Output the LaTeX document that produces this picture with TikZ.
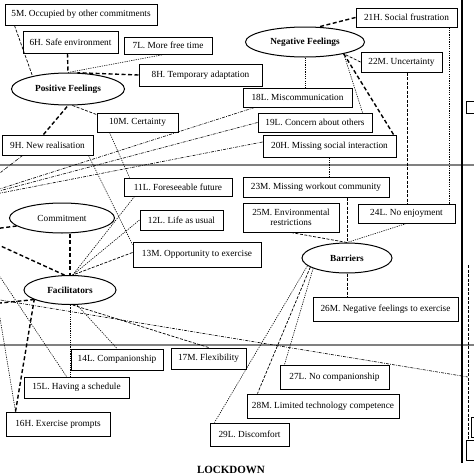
\documentclass[tikz,border=0pt]{standalone}
\usepackage{fontspec}
\setmainfont{Liberation Serif}
\usetikzlibrary{shapes.geometric}
\begin{document}
\begin{tikzpicture}[x=1pt,y=-1pt,
  box/.style={draw,line width=1pt,inner sep=1pt,font=\fontsize{9.3}{10.3}\selectfont,align=center},
  bx/.style 2 args={box,minimum width=#1pt,minimum height=#2pt},
  theme/.style 2 args={draw,ellipse,line width=1pt,inner sep=0pt,minimum width=#1pt,minimum height=#2pt,font=\fontsize{9.3}{10.3}\selectfont\bfseries},
  hlink/.style={line width=1.4pt,dash pattern=on 4pt off 2.5pt},
  mlink/.style={line width=0.7pt,dash pattern=on 3pt off 1.5pt},
  llink/.style={line width=0.6pt,dash pattern=on 1.2pt off 1.1pt},
  xlink/.style={line width=0.6pt,dash pattern=on 3pt off 1.2pt on 0.8pt off 1.2pt},
  sep/.style={draw=gray,line width=1.1pt}]
\useasboundingbox (0,0) rectangle (474,474);
\clip (0,0) rectangle (474,474);

% separators
\coordinate (s1l) at (0,165); \coordinate (s1r) at (474,165);
\coordinate (s2l) at (0,345); \coordinate (s2r) at (474,345);
\draw[sep] (s1l) -- (s1r);
\draw[sep] (s2l) -- (s2r);
\coordinate (vt) at (462,0); \coordinate (vb) at (462,463);
\draw[line width=1.4pt] (vt) -- (vb);

% boxes
\node[bx={152}{21}] (b5) at (81,14.5) {5M. Occupied by other commitments};
\node[bx={95}{22}] (b6) at (70.5,42) {6H. Safe environment};
\node[bx={88}{17}] (b7) at (168,45.5) {7L. More free time};
\node[bx={123}{22}] (b8) at (200.5,75) {8H. Temporary adaptation};
\node[bx={81}{19}] (b10) at (137.5,122.5) {10M. Certainty};
\node[bx={91}{20}] (b9) at (47.5,145) {9H. New realisation};
\node[bx={101}{19}] (b21) at (406.5,17.5) {21H. Social frustration};
\node[bx={81}{20}] (b22) at (401.5,62) {22M. Uncertainty};
\node[bx={109}{19}] (b18) at (297.5,97.5) {18L. Miscommunication};
\node[bx={114}{19}] (b19) at (315,122.5) {19L. Concern about others};
\node[bx={133}{22}] (b20) at (329.5,146) {20H. Missing social interaction};
\node[bx={108}{18}] (b11) at (178,187) {11L. Foreseeable future};
\node[bx={83}{20}] (b12) at (181.5,220) {12L. Life as usual};
\node[bx={128}{25}] (b13) at (197,254.5) {13M. Opportunity to exercise};
\node[bx={146}{20}] (b23) at (316,187) {23M. Missing workout community};
\node[bx={96}{29}] (b25) at (291,217.5) {25M. Environmental\\restrictions};
\node[bx={97}{19}] (b24) at (406.5,213.5) {24L. No enjoyment};
\node[bx={145}{24}] (b26) at (385.5,309) {26M. Negative feelings to exercise};
\node[bx={92}{21}] (b14) at (117,359.5) {14L. Companionship};
\node[bx={75}{21}] (b17) at (208.5,358.5) {17M. Flexibility};
\node[bx={105}{21}] (b15) at (76.5,387.5) {15L. Having a schedule};
\node[bx={104}{24}] (b16) at (58,424) {16H. Exercise prompts};
\node[bx={79}{23}] (b29) at (249.5,434.5) {29L. Discomfort};
\node[bx={109}{24}] (b27) at (334.5,377) {27L. No companionship};
\node[bx={152}{24}] (b28) at (323,406) {28M. Limited technology competence};

% right-hand fragments
\node[bx={24}{12}] (rf1) at (478,107.5) {};
\node[bx={21}{20}] (rf2) at (481.5,427) {};
\node[bx={24}{20}] (rf3) at (478,450) {};

% themes
\node[theme={113}{32}] (pf) at (68,89) {Positive Feelings};
\node[theme={119}{30}] (nf) at (305,42) {Negative Feelings};
\node[theme={105}{30},font=\fontsize{9.3}{10.3}\selectfont] (com) at (62,218) {Commitment};
\node[theme={92}{29}] (fac) at (70,290) {Facilitators};
\node[theme={90}{30}] (bar) at (347,258) {Barriers};

\node[font=\fontsize{11}{12}\selectfont\bfseries,anchor=base,inner sep=0pt] (lock) at (231,473) {LOCKDOWN};

% off-frame ends
\coordinate (offA) at (-35,200);
\coordinate (offB) at (-30,232);
\coordinate (offC) at (-30,306);
\coordinate (offD) at (-30,295);
\coordinate (offE) at (0,318);
\coordinate (offR) at (468,377);
\coordinate (rv1) at (468,265);
\coordinate (rv2) at (468,440);
\coordinate (c21) at ([xshift=-8pt]b21.south east);
\coordinate (c22) at ([xshift=6pt]b22.south);

% Positive Feelings
\draw[mlink] ([xshift=10pt]b5.south west) -- (pf.160);
\draw[hlink] ([xshift=-3pt]b6.south) -- (pf.north);
\draw[llink] ([xshift=-4pt]b7.south) -- (pf.north);
\draw[hlink] (b8.west) -- (pf.60);
\draw[hlink] ([xshift=-4pt]b9.north) -- (pf.south);
\draw[mlink] (pf.-75) -- ([yshift=-2pt]b10.north west);

% Negative Feelings
\draw[hlink] (b21.west) -- (nf.48);
\draw[mlink] (b22.west) -- (nf.-17);
\draw[hlink] ([xshift=-3pt]b20.north east) -- (nf.-17);
\draw[llink] ([xshift=-10pt]b19.north east) -- (nf.-17);
\draw[llink] (nf.south) -- (nf.south |- b18.north);

% cross links to the left
\draw[xlink] ([xshift=12pt]b18.south west) -- (offA);
\draw[xlink] (b19.west) -- (offA);
\draw[xlink] ([yshift=4pt]b20.west) -- (offA);
\draw[xlink] ([xshift=21pt]b9.south west) -- (offA);
\draw[llink] ([xshift=13pt]b10.south west) -- ([xshift=6pt]b11.north west);
\draw[llink] ([xshift=-5pt]b9.south east) -- ([yshift=-3pt]b13.north west);

% Commitment / Facilitators
\draw[hlink] (fac.north |- com.south) -- (fac.north);
\draw[hlink] (com.190) -- (offB);
\draw[hlink] (fac.110) -- (offB);
\draw[llink] ([xshift=11pt]b11.south west) -- (fac.80);
\draw[llink] (b12.west) -- (fac.80);
\draw[mlink] ([yshift=2pt]b13.west) -- (fac.80);
\draw[hlink] (fac.195) -- (offC);
\draw[xlink] (offD) -- (offR);
\draw[llink] (fac.-65) -- (b14.north);
\draw[llink] (fac.south) -- (fac.south |- b15.north);
\draw[llink] (offB) -- ([xshift=-10pt]b15.north);
\draw[llink] (offE) -- ([xshift=10pt]b16.north west);
\draw[hlink] ([xshift=10pt]b16.north west) -- (fac.-165);
\draw[mlink] (fac.-80) -- (b17.north);

% Barriers
\draw[mlink] (bar.north |- b23.south) -- (bar.north);
\draw[mlink] (b25.south) -- (bar.north);
\draw[llink] (b24.south) -- (bar.north);
\draw[mlink] (bar.south) -- (bar.south |- b26.north);
\draw[llink] (b20.south) -- (b20.south |- b23.north);
\draw[mlink] (c22) -- (c22 |- b24.north);
\draw[llink] (c21) -- (c21 |- b24.north);
\draw[llink] (bar.-169) -- ([xshift=5pt]b29.north west);
\draw[mlink] (bar.-166) -- ([xshift=11pt]b28.north west);
\draw[llink] (bar.-163) -- ([xshift=5pt]b27.north west);
\draw[mlink,line width=0.9pt] (rv1) -- (rv2);
\end{tikzpicture}
\end{document}
